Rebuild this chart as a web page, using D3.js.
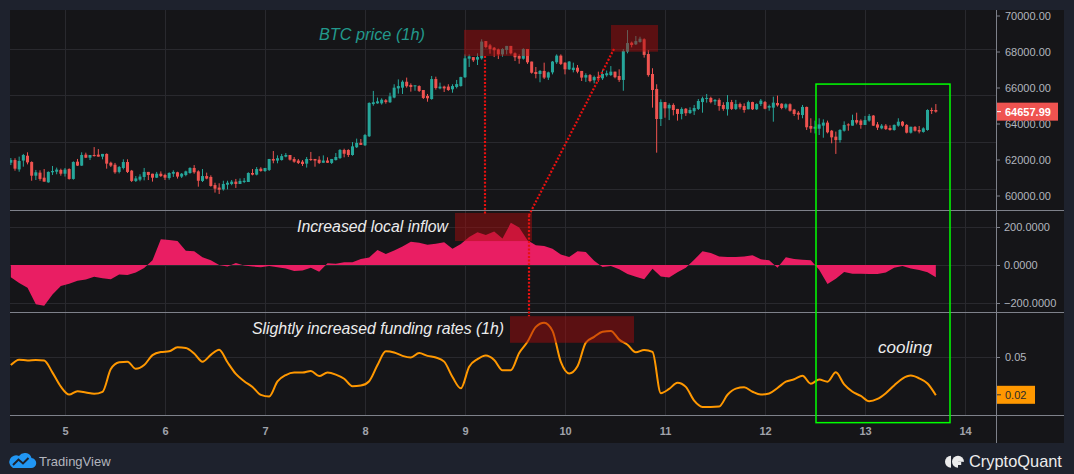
<!DOCTYPE html>
<html>
<head>
<meta charset="utf-8">
<script src="https://cdn.jsdelivr.net/npm/d3@7"></script>
<style>
body { margin: 0; background: #1e222d; }
svg { display: block; font-family: "Liberation Sans", Arial, sans-serif; }
</style>
</head>
<body>
<div id="chart"></div>
<script>
// hourly candles, first one at May 4 11:00
var startDay = 4 + 11 / 24

// [open, high, low, close]
var candles = [
    [61820,62080,61690,61970],[61970,62070,61380,61490],[61450,62160,61320,61920],[61940,62310,61600,62250],
    [62210,62400,61730,61840],[61860,61900,60820,61100],[61100,61420,60860,61290],[61270,61400,60820,60920],
    [60990,61470,60770,60770],[60730,61340,60710,61310],[61290,61640,61140,61360],[61320,61550,61180,61440],
    [61420,61490,61100,61210],[61210,61530,61050,61440],[61470,61510,60880,60920],[60920,61900,60880,61860],
    [61880,62030,61640,61660],[61660,62400,61640,62250],[62270,62380,62080,62100],[62100,62250,61970,62250],
    [62250,62690,62160,62190],[62270,62580,62160,62160],[62160,62310,62010,62310],[62310,62340,61490,61770],
    [61820,61880,61580,61660],[61710,61810,61210,61290],[61310,61640,61230,61580],[61530,62010,61450,61860],
    [61860,62010,61250,61310],[61380,61420,60750,60810],[60810,61080,60750,60950],[60880,61180,60790,61050],
    [61030,61530,60840,61310],[61310,61310,60860,61140],[61210,61210,60770,60990],[60990,61310,60970,61210],
    [61210,61340,61030,61080],[61140,61210,60860,60990],[60970,61290,60880,61250],[61210,61400,61030,61310],
    [61290,61320,60940,61050],[61050,61250,60970,61210],[61140,61380,61070,61340],[61250,61570,61210,61530],
    [61530,61690,61210,61290],[61340,61400,60490,60820],[60810,61470,60750,61080],[61080,61270,60900,60940],
    [61030,61120,60490,60530],[60580,60710,60160,60380],[60440,60680,60080,60320],[60340,60820,60270,60640],
    [60600,60820,60340,60710],[60640,60860,60570,60770],[60770,60920,60420,60640],[60640,60950,60640,60810],
    [60750,60970,60690,60820],[60750,61290,60750,61250],[61250,61470,61120,61160],[61160,61580,61120,61470],
    [61490,61570,61320,61360],[61360,61530,61310,61530],[61420,62030,61360,62030],[62030,62470,61790,61940],
    [61940,62230,61790,62070],[61970,62310,61940,62190],[62160,62360,62120,62250],[62250,62250,61940,61990],
    [62030,62140,61820,61880],[61940,62030,61750,61810],[61880,61970,61640,61750],[61770,62140,61550,62030],
    [62030,62420,61920,61970],[62030,62030,61600,61940],[61990,62180,61750,61810],[61820,62230,61820,61940],
    [61940,62120,61810,61820],[61810,62030,61750,62030],[61970,62360,61940,62140],[62080,62580,62030,62530],
    [62530,62600,62120,62320],[62530,62570,62140,62250],[62250,62970,62210,62730],[62680,63160,62640,62920],
    [62920,63140,62810,62810],[62790,63420,62750,63360],[63290,65180,63250,65140],[65080,65810,64990,65180],
    [65120,65440,65100,65230],[65120,65400,65050,65320],[65290,65360,65100,65190],[65180,65710,65140,65510],
    [65440,66180,65400,65990],[65950,66450,65660,66080],[65990,66400,65640,66320],[66320,66550,65990,66070],
    [66140,66230,65770,66030],[66080,66120,65820,66120],[66080,66120,65750,65810],[65860,65860,65360,65420],
    [65530,65640,65210,65400],[65360,66640,65320,66470],[66470,66600,65880,65970],[65950,66270,65900,66050],
    [66050,66100,65750,65950],[66050,66180,65810,65860],[65900,66180,65710,66080],[66030,66420,65950,66190],
    [66080,66600,66050,66580],[66570,67840,66530,67620],[67600,67840,67140,67730],[67690,67690,67420,67510],
    [67550,67900,67250,67690],[67620,68680,67550,68550],[68580,68580,68180,68250],[68340,68420,67880,68140],
    [68210,68250,67690,68070],[68120,68160,67580,67840],[67840,68180,67710,68140],[68080,68310,67840,68310],
    [68310,68310,67840,67900],[67900,67950,67470,67680],[67750,67840,67320,67600],[67600,68180,67550,68140],
    [68140,68140,67310,67400],[67440,67440,66770,66820],[66860,67140,66510,66750],[66750,66970,66290,66920],
    [66920,67380,66470,66550],[66550,66880,66420,66840],[66840,67470,66730,67440],[67400,67840,67310,67770],
    [67770,67840,67250,67310],[67380,67400,66730,67010],[67010,67470,66970,67440],[66970,67380,66840,67100],
    [67100,67250,66790,66880],[66920,66920,66360,66550],[66550,66790,66310,66690],[66690,66750,66290,66360],
    [66400,66660,66230,66580],[66600,66880,66320,66510],[66510,66970,66420,66750],[66680,66940,66600,66790],
    [66690,67190,66640,66880],[66880,66880,66510,66570],[66640,67010,66310,66420],[66420,68140,65820,68030],
    [67990,69190,67900,68470],[68490,68550,68230,68360],[68400,68860,68360,68580],[68530,68820,68490,68710],
    [68680,68730,67660,67810],[67860,68080,66600,66690],[66750,67070,64880,65860],[65920,66180,62380,64250],
    [64250,65340,63860,65190],[65190,65190,64320,64840],[64840,65120,64190,65030],[65030,65120,64450,64750],
    [64810,64810,64160,64530],[64530,64900,64230,64810],[64820,64860,64420,64570],[64580,64900,64530,64750],
    [64680,65030,64470,64860],[64810,65360,64750,65250],[65190,65490,64600,65400],[65380,65640,65160,65420],
    [65420,65490,65120,65190],[65230,65360,65030,65310],[65310,65400,64710,64970],[65030,65180,64710,64810],
    [64790,65580,64440,65190],[65190,65310,64750,64810],[64810,65310,64750,65080],[65080,65160,64790,64900],
    [64970,65120,64600,64750],[64790,65270,64790,65190],[65190,65210,64750,64790],[64790,65120,64750,65080],
    [65080,65360,64970,65270],[65190,65250,64790,64820],[64880,65050,64710,64970],[64880,65490,64100,65160],
    [65140,65550,64940,65010],[65100,65120,64790,64860],[64880,65120,64790,65070],[65070,65120,64660,64710],
    [64770,64810,64420,64530],[64600,64690,64210,64490],[64470,65030,64290,64920],[64920,64940,63640,63790],
    [63860,64290,63490,63710],[63710,64160,63450,63820],[63710,64290,63360,63950],[63880,64230,63210,64050],
    [64050,64160,63450,63510],[63600,63640,62900,63230],[63270,63550,62310,63080],[63080,63690,62940,63640],
    [63600,64120,63550,63920],[63950,64010,63600,63900],[63880,64490,63880,64190],[64190,64600,63950,64050],
    [64160,64230,63710,63920],[63920,64420,63920,64190],[64160,64530,64100,64420],[64440,64470,63860,63880],
    [63950,64080,63640,63770],[63730,63970,63680,63880],[63880,63970,63640,63690],[63750,63900,63600,63640],
    [63640,63950,63600,63920],[63880,64290,63820,64100],[64100,64140,63820,63880],[63920,63970,63450,63490],
    [63490,63820,63440,63820],[63810,63860,63550,63600],[63640,63860,63450,63550],[63530,63790,63490,63730],
    [63640,64790,63600,64750],[64750,64880,64530,64690],[64750,65080,64600,64658]
]

// 2-hourly values, same start as the candles
var inflow = [
    -65,-95,-120,-206,-215,-155,-110,-99,-83,-76,
    -62,-70,-75,-50,-52,-40,-16,25,135,132,
    126,75,72,41,25,0,-8,11,-3,-8,
    -12,-5,-12,-18,-32,-29,-15,-35,9,7,
    15,15,31,40,79,58,76,97,122,117,
    106,112,120,85,110,148,172,158,176,140,
    222,198,130,104,100,85,55,42,72,68,
    22,-10,-5,-22,-48,-62,-75,-20,-60,-66,
    -38,-15,28,72,63,45,42,42,45,51,
    30,25,-15,41,31,28,25,-25,-100,-72,
    -37,-46,-46,-48,-47,-40,-15,-5,-19,-26,
    -38,-64
]

var funding = [
    0.0436,0.0479,0.0472,0.0477,0.0472,0.0376,0.0265,0.0202,0.0229,0.0219,
    0.0208,0.0224,0.0404,0.0458,0.0463,0.0406,0.0436,0.0515,0.0539,0.0545,
    0.0577,0.0572,0.0528,0.0463,0.0517,0.0558,0.0458,0.0366,0.0308,0.0262,
    0.0199,0.0186,0.0306,0.0357,0.0376,0.0376,0.0389,0.0349,0.0376,0.0360,
    0.0327,0.0268,0.0273,0.0308,0.0436,0.0545,0.0536,0.0509,0.0496,0.0532,
    0.0509,0.0496,0.0463,0.0341,0.0251,0.0423,0.0483,0.0512,0.0477,0.0395,
    0.0395,0.0532,0.0621,0.0739,0.0772,0.0707,0.0461,0.0370,0.0427,0.0614,
    0.0660,0.0701,0.0707,0.0638,0.0597,0.0537,0.0556,0.0540,0.0213,0.0247,
    0.0296,0.0263,0.0153,0.0104,0.0104,0.0107,0.0200,0.0249,0.0260,0.0224,
    0.0202,0.0211,0.0254,0.0304,0.0323,0.0351,0.0288,0.0321,0.0304,0.0378,
    0.0282,0.0224,0.0191,0.0148,0.0167,0.0213,0.0274,0.0329,0.0353,0.0331,
    0.0290,0.0197
]

var dayTicks = [5, 6, 7, 8, 9, 10, 11, 12, 13, 14]
var priceTicks = [60000, 62000, 64000, 66000, 68000, 70000]
var inflowTicks = [-200, 0, 200]
var fundingTicks = [0.05]
var lastPrice = 64657.99
var lastFunding = 0.02

var upColor = "#26a69a", downColor = "#ef5350"
var gridColor = "#29292e", sepColor = "#7e818a"

var svg = d3.select("#chart").append("svg")
    .attr("width", 1074)
    .attr("height", 474)

svg.append("rect").attr("width", 1074).attr("height", 474).attr("fill", "#1e222d")
svg.append("rect").attr("x", 10).attr("y", 10).attr("width", 1054).attr("height", 433).attr("fill", "#151518")

var x = d3.scaleLinear().domain([4.45, 14.31]).range([10, 996])
var yPrice = d3.scaleLinear().domain([60000, 70000]).range([195.5, 15.5])
var yInflow = d3.scaleLinear().domain([-200, 200]).range([303, 227])
var yFund = d3.scaleLinear().domain([0.02, 0.05]).range([394.8, 357])

function hourTime(i) { return startDay + i / 24 }
function twoHourTime(i) { return startDay + i / 12 }

// grid
var grid = svg.append("g").attr("stroke", gridColor).attr("stroke-width", 1)
grid.selectAll(".v").data(dayTicks).enter().append("line")
    .attr("x1", function (d) { return Math.round(x(d)) + 0.5 })
    .attr("x2", function (d) { return Math.round(x(d)) + 0.5 })
    .attr("y1", 10).attr("y2", 415)
// price pane rows do not follow the price labels in the original
var priceGridY = [49, 95, 142, 189]
grid.selectAll(".hp").data(priceGridY).enter().append("line")
    .attr("x1", 10).attr("x2", 996)
    .attr("y1", function (d) { return d + 0.5 }).attr("y2", function (d) { return d + 0.5 })
grid.selectAll(".hi").data(inflowTicks).enter().append("line")
    .attr("x1", 10).attr("x2", 996)
    .attr("y1", function (d) { return Math.round(yInflow(d)) + 0.5 })
    .attr("y2", function (d) { return Math.round(yInflow(d)) + 0.5 })
grid.selectAll(".hf").data(fundingTicks).enter().append("line")
    .attr("x1", 10).attr("x2", 996)
    .attr("y1", function (d) { return Math.round(yFund(d)) + 0.5 })
    .attr("y2", function (d) { return Math.round(yFund(d)) + 0.5 })

var defs = svg.append("defs")
function addClip(id, y, h) {
    defs.append("clipPath").attr("id", id).append("rect")
        .attr("x", 10).attr("y", y).attr("width", 986).attr("height", h)
}
addClip("clipPrice", 10, 200)
addClip("clipInflow", 210, 102)
addClip("clipFund", 312, 103)

// candles
var candleG = svg.append("g").attr("clip-path", "url(#clipPrice)")
var candle = candleG.selectAll("g").data(candles).enter().append("g")
    .attr("fill", function (d) { return d[3] >= d[0] ? upColor : downColor })
    .attr("stroke", function (d) { return d[3] >= d[0] ? upColor : downColor })
candle.append("line")
    .attr("x1", function (d, i) { return x(hourTime(i)) })
    .attr("x2", function (d, i) { return x(hourTime(i)) })
    .attr("y1", function (d) { return yPrice(d[1]) })
    .attr("y2", function (d) { return yPrice(d[2]) })
    .attr("stroke-width", 1)
candle.append("rect")
    .attr("stroke", "none")
    .attr("x", function (d, i) { return x(hourTime(i)) - 1.5 })
    .attr("width", 3)
    .attr("y", function (d) { return yPrice(Math.max(d[0], d[3])) })
    .attr("height", function (d) { return Math.max(1, Math.abs(yPrice(d[0]) - yPrice(d[3]))) })

// inflow area
var area = d3.area()
    .x(function (d, i) { return x(twoHourTime(i)) })
    .y0(yInflow(0))
    .y1(function (d) { return yInflow(d) })
svg.append("path")
    .datum(inflow)
    .attr("clip-path", "url(#clipInflow)")
    .attr("fill", "#e91e63")
    .attr("d", area)

// funding line
var line = d3.line()
    .x(function (d, i) { return x(twoHourTime(i)) })
    .y(function (d) { return yFund(d) })
    .curve(d3.curveMonotoneX)
svg.append("path")
    .datum(funding)
    .attr("clip-path", "url(#clipFund)")
    .attr("fill", "none")
    .attr("stroke", "#ff9800")
    .attr("stroke-width", 2)
    .attr("stroke-linejoin", "round")
    .attr("d", line)

// pane separators and axis line
svg.selectAll(".sep").data([210, 312, 415]).enter().append("line")
    .attr("x1", 10).attr("x2", 1064)
    .attr("y1", function (d) { return d + 0.5 }).attr("y2", function (d) { return d + 0.5 })
    .attr("stroke", sepColor)
svg.append("line").attr("x1", 996.5).attr("x2", 996.5).attr("y1", 10).attr("y2", 443).attr("stroke", sepColor)

function styleAxis(g, size, color, weight) {
    g.select(".domain").remove()
    g.selectAll(".tick line").attr("stroke", sepColor)
    g.selectAll("text").attr("fill", color).style("font-size", size + "px")
        .style("font-family", "'Liberation Sans', Arial, sans-serif")
        .style("font-weight", weight)
}

var priceAxis = svg.append("g").attr("transform", "translate(996,0)")
    .call(d3.axisRight(yPrice).tickValues(priceTicks).tickFormat(d3.format(".2f")).tickSize(4).tickPadding(5))
styleAxis(priceAxis, 11, "#b2b5be", "normal")

var inflowAxis = svg.append("g").attr("transform", "translate(996,0)")
    .call(d3.axisRight(yInflow).tickValues(inflowTicks).tickFormat(d3.format(".4f")).tickSize(4).tickPadding(4))
styleAxis(inflowAxis, 11, "#b2b5be", "normal")

var fundAxis = svg.append("g").attr("transform", "translate(996,0)")
    .call(d3.axisRight(yFund).tickValues(fundingTicks).tickFormat(d3.format(".2f")).tickSize(4).tickPadding(5))
styleAxis(fundAxis, 11, "#b2b5be", "normal")

var dayAxis = svg.append("g").attr("transform", "translate(0,415)")
    .call(d3.axisBottom(x).tickValues(dayTicks).tickFormat(d3.format("d")).tickSize(0).tickPadding(12))
styleAxis(dayAxis, 11, "#a0a3ab", "bold")

// last value labels
var py = yPrice(lastPrice)
svg.append("rect").attr("x", 997).attr("y", py - 9).attr("width", 61).attr("height", 18).attr("fill", "#ef5350")
svg.append("line").attr("x1", 997).attr("x2", 1001).attr("y1", py).attr("y2", py).attr("stroke", "#fff")
svg.append("text").attr("x", 1005).attr("y", py + 4).attr("fill", "#fff")
    .style("font-size", "11px").style("font-weight", "bold")
    .text(d3.format(".2f")(lastPrice))

var fy = yFund(lastFunding)
svg.append("rect").attr("x", 997).attr("y", fy - 9).attr("width", 38).attr("height", 18).attr("fill", "#ff9800")
svg.append("line").attr("x1", 997).attr("x2", 1001).attr("y1", fy).attr("y2", fy).attr("stroke", "#333")
svg.append("text").attr("x", 1005).attr("y", fy + 4).attr("fill", "#2b2b2b")
    .style("font-size", "11px")
    .text(d3.format(".2f")(lastFunding))

// highlight boxes
var boxFill = "rgba(170,12,12,0.48)"
function boxRect(x0, x1, y0, y1) {
    svg.append("rect")
        .attr("x", x(x0)).attr("y", y0)
        .attr("width", x(x1) - x(x0)).attr("height", y1 - y0)
        .attr("fill", boxFill)
}
boxRect(8.99, 9.65, yPrice(69200), yPrice(67750))
boxRect(10.46, 10.93, yPrice(69470), yPrice(67990))
boxRect(8.90, 9.67, yInflow(274), yInflow(126))
boxRect(9.45, 10.69, yFund(0.0824), yFund(0.0613))

// dotted links
var dots = svg.append("g")
    .attr("fill", "none")
    .attr("stroke", "#e8100f")
    .attr("stroke-width", 2.2)
    .attr("stroke-dasharray", "2,1.7")
dots.append("line")
    .attr("x1", x(9.2)).attr("x2", x(9.2))
    .attr("y1", yPrice(67750)).attr("y2", yInflow(268))
dots.append("line")
    .attr("x1", x(10.49)).attr("y1", yPrice(68140))
    .attr("x2", x(9.64)).attr("y2", yInflow(262))
dots.append("line")
    .attr("x1", x(9.64)).attr("x2", x(9.64))
    .attr("y1", yInflow(262)).attr("y2", yFund(0.0824))

// cooling box
svg.append("rect")
    .attr("x", x(12.51)).attr("y", yPrice(66190))
    .attr("width", x(13.85) - x(12.51))
    .attr("height", yFund(-0.0021) - yPrice(66190))
    .attr("fill", "none")
    .attr("stroke", "#00ff00")
    .attr("stroke-width", 1.5)

// annotations
function note(txt, px, py, size, color) {
    svg.append("text")
        .attr("x", px).attr("y", py)
        .attr("fill", color)
        .style("font-size", size + "px")
        .style("font-style", "italic")
        .text(txt)
}
note("BTC price (1h)", 319, 40, 16.3, "#22998c")
note("Increased local inflow", 297, 232, 15.8, "#ececec")
note("Slightly increased funding rates (1h)", 252, 334, 15.8, "#ececec")
note("cooling", 878, 353, 17, "#ececec")

// footer logos
var tv = svg.append("g")
tv.append("path")
    .attr("d", "M13 468 L31 468 A5 5 0 0 0 31.5 458 A7 7 0 0 0 19 456 A5.5 5.5 0 0 0 13 468 Z")
    .attr("fill", "#2196f3")
tv.append("path")
    .attr("d", "M13 465 L18.5 459.5 L23 463.5 L28.5 458")
    .attr("fill", "none").attr("stroke", "#1e222d").attr("stroke-width", 2)
tv.append("text").attr("x", 39).attr("y", 466).attr("fill", "#b2b5be")
    .style("font-size", "13px").text("TradingView")

var cq = svg.append("g").attr("fill", "#ececec")
cq.append("path").attr("d", "M951 455.8 A6 6 0 0 0 951 467.8 Z")
cq.append("circle").attr("cx", 958).attr("cy", 461.8).attr("r", 6)
cq.append("rect").attr("x", 958).attr("y", 461.8).attr("width", 6.5).attr("height", 6.5).attr("fill", "#1e222d")
cq.append("rect").attr("x", 958).attr("y", 461.8).attr("width", 3.2).attr("height", 3.2)
cq.append("text").attr("x", 969).attr("y", 467).style("font-size", "16.4px").text("CryptoQuant")
</script>
</body>
</html>
